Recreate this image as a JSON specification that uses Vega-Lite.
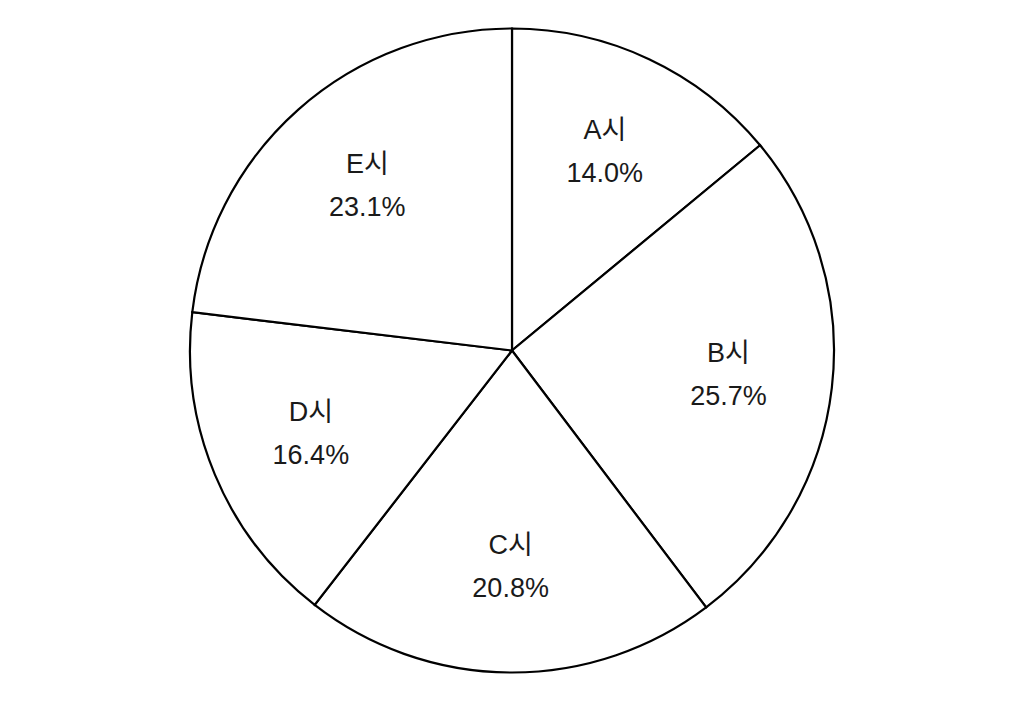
{
  "$schema": "https://vega.github.io/schema/vega-lite/v6.json",
  "width": 1024,
  "height": 701,
  "autosize": {"type": "fit", "contains": "padding"},
  "background": "white",
  "config": {"view": {"stroke": null}},
  "data": {
    "values": [
      {"city": "A시", "pct": 14.0, "order": 1, "label": "A시\n14.0%"},
      {"city": "B시", "pct": 25.7, "order": 2, "label": "B시\n25.7%"},
      {"city": "C시", "pct": 20.8, "order": 3, "label": "C시\n20.8%"},
      {"city": "D시", "pct": 16.4, "order": 4, "label": "D시\n16.4%"},
      {"city": "E시", "pct": 23.1, "order": 5, "label": "E시\n23.1%"}
    ]
  },
  "encoding": {
    "theta": {"field": "pct", "type": "quantitative", "stack": true},
    "order": {"field": "order", "type": "quantitative"}
  },
  "layer": [
    {
      "mark": {"type": "arc", "outerRadius": 322, "fill": "white", "stroke": "black", "strokeWidth": 2.2}
    },
    {
      "mark": {
        "type": "text",
        "radius": 218,
        "dy": -22,
        "font": "Liberation Sans, Noto Sans CJK KR",
        "fontSize": 27,
        "lineBreak": "\n",
        "lineHeight": 43,
        "align": "center",
        "baseline": "middle",
        "color": "#1a1a1a"
      },
      "encoding": {"text": {"field": "label"}}
    }
  ]
}
